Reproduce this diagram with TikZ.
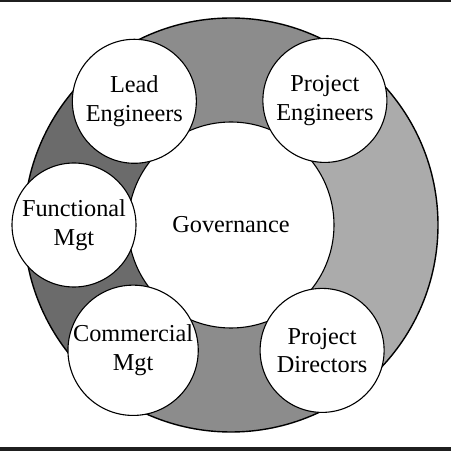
\documentclass[tikz,border=0pt]{standalone}
\usepackage{fontspec}
\setmainfont{Liberation Serif}
\usepackage{tikz}
\usetikzlibrary{positioning}

\tikzset{
	member/.style={circle, draw, line width=1.1pt, fill=white, minimum size=124pt, inner sep=0pt, align=center},
	sector/.style={draw=none},
	rule/.style={fill=black!88, draw=none}
}

\begin{document}
\begin{tikzpicture}[x=1pt,y=1pt,font=\fontsize{24.3}{28.5}\selectfont]

	\useasboundingbox (0,0) rectangle (451,451);
	\fill[rule] (0,448.5) rectangle (451,451);
	\fill[rule] (0,0) rectangle (451,4);

	\coordinate (mid) at (231,226);
	% ring sectors
	\fill[sector, black!58] (mid) -- ++(128:207) arc[start angle=128, end angle=232, radius=207pt] -- cycle;
	\fill[sector, black!45] (mid) -- ++(53:207) arc[start angle=53, end angle=128, radius=207pt] -- cycle;
	\fill[sector, black!45] (mid) -- ++(232:207) arc[start angle=232, end angle=307, radius=207pt] -- cycle;
	\fill[sector, black!33] (mid) -- ++(-53:207) arc[start angle=-53, end angle=53, radius=207pt] -- cycle;
	\draw[line width=1.4pt] (mid) circle[radius=207pt];

	\node [member, minimum size=206pt] (gov) at (mid) {Governance};
	\node [member] (lead) at ([shift={(128:157)}]gov) {Lead\\Engineers};
	\node [member] (proj) at ([shift={(53:156)}]gov) {Project\\Engineers};
	\node [member] (func) at ([shift={(180:157)}]gov) {Functional\\Mgt};
	\node [member] (comm) at ([shift={(232:159)}]gov) {Commercial\\Mgt};
	\node [member] (dirs) at ([shift={(-54:155)}]gov) {Project\\Directors};
\end{tikzpicture}
\end{document}
